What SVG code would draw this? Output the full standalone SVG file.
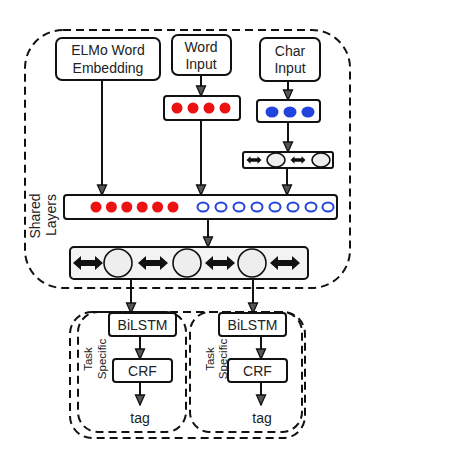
<svg xmlns="http://www.w3.org/2000/svg" width="474" height="474" viewBox="0 0 474 474">
<style>
.box{fill:#fff;stroke:#111;stroke-width:2}
.gbox{fill:#f3f3f3;stroke:#111;stroke-width:2}
.dash{fill:none;stroke:#111;stroke-width:2;stroke-dasharray:8,5}
.t{font-family:"Liberation Sans",Arial,sans-serif;font-size:14px;fill:#222;text-anchor:middle}
.lab{font-family:"Liberation Sans",Arial,sans-serif;font-size:14px;fill:#222;text-anchor:middle}
.tl{font-family:"Liberation Sans",Arial,sans-serif;font-size:11.5px;fill:#222;text-anchor:middle}
.con{stroke:#111;stroke-width:2;fill:none;marker-end:url(#ah)}
.rd{fill:#ee1111}
.bd{fill:#2244dd}
.bh{fill:none;stroke:#2244dd;stroke-width:2}
.cell{fill:#eeeeee;stroke:#111;stroke-width:1.6}
.arr{fill:#111}
</style>
<defs>
<marker id="ah" markerUnits="userSpaceOnUse" markerWidth="12" markerHeight="12" viewBox="0 0 12 12" refX="11" refY="6" orient="auto">
<path d="M1,1.5 L11,6 L1,10.5 Z" fill="#555" stroke="#111" stroke-width="1.3"/>
</marker>
<path id="dbl" d="M-15,0 L-7,-7 L-7,-3 L7,-3 L7,-7 L15,0 L7,7 L7,3 L-7,3 L-7,7 Z"/>
</defs>
<rect width="474" height="474" fill="#fff"/>

<g id="shared-region">
<rect class="dash" x="25" y="30" width="325" height="258" rx="38"/>
<text class="lab" transform="translate(40 216) rotate(-90)">Shared</text>
<text class="lab" transform="translate(56 215) rotate(-90)">Layers</text>
</g>

<g id="task-region">
<rect class="dash" x="70" y="312" width="235" height="126" rx="22"/>
<rect class="dash" x="78" y="312" width="108" height="120" rx="20"/>
<rect class="dash" x="190" y="312" width="112" height="120" rx="20"/>
</g>

<g id="connectors">
<line class="con" x1="102" y1="80" x2="102" y2="195"/>
<line class="con" x1="201" y1="75" x2="201" y2="96"/>
<line class="con" x1="201" y1="120" x2="201" y2="195"/>
<line class="con" x1="288" y1="81" x2="288" y2="100"/>
<line class="con" x1="288" y1="122" x2="288" y2="152"/>
<line class="con" x1="287" y1="168" x2="287" y2="195"/>
<line class="con" x1="208" y1="219" x2="208" y2="247"/>
<line class="con" x1="131" y1="279" x2="131" y2="313"/>
<line class="con" x1="253" y1="279" x2="253" y2="313"/>
<line class="con" x1="140" y1="336" x2="140" y2="359"/>
<line class="con" x1="140" y1="382" x2="140" y2="405"/>
<line class="con" x1="261" y1="336" x2="261" y2="359"/>
<line class="con" x1="261" y1="382" x2="261" y2="405"/>
</g>

<g id="elmo">
<rect class="box" x="56" y="38" width="104" height="42" rx="6"/>
<text class="t" x="108" y="55">ELMo Word</text>
<text class="t" x="108" y="73">Embedding</text>
</g>

<g id="word-input">
<rect class="box" x="172" y="35" width="59" height="40" rx="6"/>
<text class="t" x="201" y="52">Word</text>
<text class="t" x="201" y="69">Input</text>
</g>

<g id="char-input">
<rect class="box" x="260" y="38" width="60" height="43" rx="6"/>
<text class="t" x="290" y="56">Char</text>
<text class="t" x="290" y="73">Input</text>
</g>

<g id="word-vec">
<rect class="box" x="164" y="96" width="76" height="24" rx="3"/>
<circle class="rd" cx="177" cy="108" r="5.5"/>
<circle class="rd" cx="193" cy="108" r="5.5"/>
<circle class="rd" cx="209" cy="108" r="5.5"/>
<circle class="rd" cx="225" cy="108" r="5.5"/>
</g>

<g id="char-vec">
<rect class="box" x="257" y="100" width="63" height="22" rx="3"/>
<ellipse class="bd" cx="272" cy="112" rx="6.5" ry="5.5"/>
<ellipse class="bd" cx="290" cy="112" rx="6.5" ry="5.5"/>
<ellipse class="bd" cx="308" cy="112" rx="6.5" ry="5.5"/>
</g>

<g id="char-bilstm">
<rect class="box" x="243" y="152" width="90" height="16" rx="2"/>
<use href="#dbl" class="arr" transform="translate(254 160) scale(0.5 0.55)"/>
<ellipse class="cell" cx="276" cy="160" rx="9" ry="7"/>
<use href="#dbl" class="arr" transform="translate(298 160) scale(0.5 0.55)"/>
<ellipse class="cell" cx="321" cy="160" rx="9" ry="7"/>
</g>

<g id="concat">
<rect class="box" x="64" y="195" width="273" height="24" rx="3"/>
<circle class="rd" cx="96" cy="207" r="5.5"/>
<circle class="rd" cx="111.4" cy="207" r="5.5"/>
<circle class="rd" cx="126.8" cy="207" r="5.5"/>
<circle class="rd" cx="142.2" cy="207" r="5.5"/>
<circle class="rd" cx="157.6" cy="207" r="5.5"/>
<circle class="rd" cx="173" cy="207" r="5.5"/>
<ellipse class="bh" cx="203" cy="207" rx="5.5" ry="4.5"/>
<ellipse class="bh" cx="221" cy="207" rx="5.5" ry="4.5"/>
<ellipse class="bh" cx="239" cy="207" rx="5.5" ry="4.5"/>
<ellipse class="bh" cx="257" cy="207" rx="5.5" ry="4.5"/>
<ellipse class="bh" cx="275" cy="207" rx="5.5" ry="4.5"/>
<ellipse class="bh" cx="293" cy="207" rx="5.5" ry="4.5"/>
<ellipse class="bh" cx="311" cy="207" rx="5.5" ry="4.5"/>
<ellipse class="bh" cx="328" cy="207" rx="5.5" ry="4.5"/>
</g>

<g id="shared-bilstm">
<rect class="gbox" x="70" y="247" width="238" height="32" rx="4"/>
<use href="#dbl" class="arr" transform="translate(88 263)"/>
<circle class="cell" cx="118" cy="263" r="14"/>
<use href="#dbl" class="arr" transform="translate(153 263)"/>
<circle class="cell" cx="187" cy="263" r="14"/>
<use href="#dbl" class="arr" transform="translate(220 263)"/>
<circle class="cell" cx="252" cy="263" r="14"/>
<use href="#dbl" class="arr" transform="translate(285 263)"/>
</g>

<g id="task1">
<rect class="box" x="109" y="313" width="67" height="23" rx="3"/>
<text class="t" x="142.5" y="330">BiLSTM</text>
<rect class="box" x="113" y="359" width="59" height="23" rx="3"/>
<text class="t" x="142.5" y="376">CRF</text>
<text class="t" x="140" y="423">tag</text>
<text class="tl" transform="translate(92 359) rotate(-90)">Task</text>
<text class="tl" transform="translate(106 359) rotate(-90)">Specific</text>
</g>

<g id="task2">
<rect class="box" x="219" y="313" width="67" height="23" rx="3"/>
<text class="t" x="252.5" y="330">BiLSTM</text>
<rect class="box" x="228" y="359" width="59" height="23" rx="3"/>
<text class="t" x="257.5" y="376">CRF</text>
<text class="t" x="262" y="423">tag</text>
<text class="tl" transform="translate(214 359) rotate(-90)">Task</text>
<text class="tl" transform="translate(227 359) rotate(-90)">Specific</text>
</g>
</svg>
